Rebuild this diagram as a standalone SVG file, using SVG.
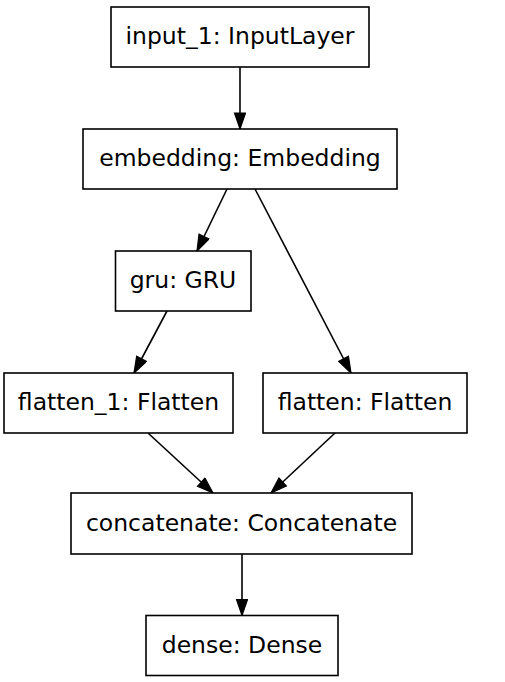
<svg xmlns="http://www.w3.org/2000/svg" width="505" height="682" viewBox="0 0 505 682">
<style>
.box{fill:#fff;stroke:#000;stroke-width:1.6}
.lbl{font-family:"DejaVu Sans",sans-serif;font-size:23.5px;fill:#000;text-anchor:middle}
.edge{fill:none;stroke:#000;stroke-width:1.6;marker-end:url(#ah)}
</style>
<defs>
<marker id="ah" markerUnits="userSpaceOnUse" markerWidth="20" markerHeight="16" refX="17" refY="6" orient="auto">
<path d="M1,0.5 L17,6 L1,11.5 z" fill="#000" stroke="#000" stroke-width="1.2"/>
</marker>
</defs>
<rect width="505" height="682" fill="#fff"/>
<g id="connectors">
<path class="edge" d="M240,67 L240,129"/>
<path class="edge" d="M227,189 L197,251"/>
<path class="edge" d="M255,189 L351,373"/>
<path class="edge" d="M167,311 L134,373"/>
<path class="edge" d="M148,433 L213,493"/>
<path class="edge" d="M335,433 L271,493"/>
<path class="edge" d="M242,554 L242,615.5"/>
</g>
<g id="input_1"><rect class="box" x="111" y="7" width="258" height="60"/><text class="lbl" x="240" y="44">input_1: InputLayer</text></g>
<g id="embedding"><rect class="box" x="83" y="129" width="314" height="60"/><text class="lbl" x="240" y="166">embedding: Embedding</text></g>
<g id="gru"><rect class="box" x="115.5" y="251" width="135.5" height="60"/><text class="lbl" x="183" y="288">gru: GRU</text></g>
<g id="flatten_1"><rect class="box" x="4" y="373" width="229" height="60"/><text class="lbl" x="118.5" y="410">flatten_1: Flatten</text></g>
<g id="flatten"><rect class="box" x="263" y="373" width="204" height="60"/><text class="lbl" x="365" y="410">flatten: Flatten</text></g>
<g id="concatenate"><rect class="box" x="71" y="493" width="341" height="61"/><text class="lbl" x="241.5" y="531">concatenate: Concatenate</text></g>
<g id="dense"><rect class="box" x="146" y="615.5" width="192" height="60"/><text class="lbl" x="242" y="652.5">dense: Dense</text></g>
</svg>
